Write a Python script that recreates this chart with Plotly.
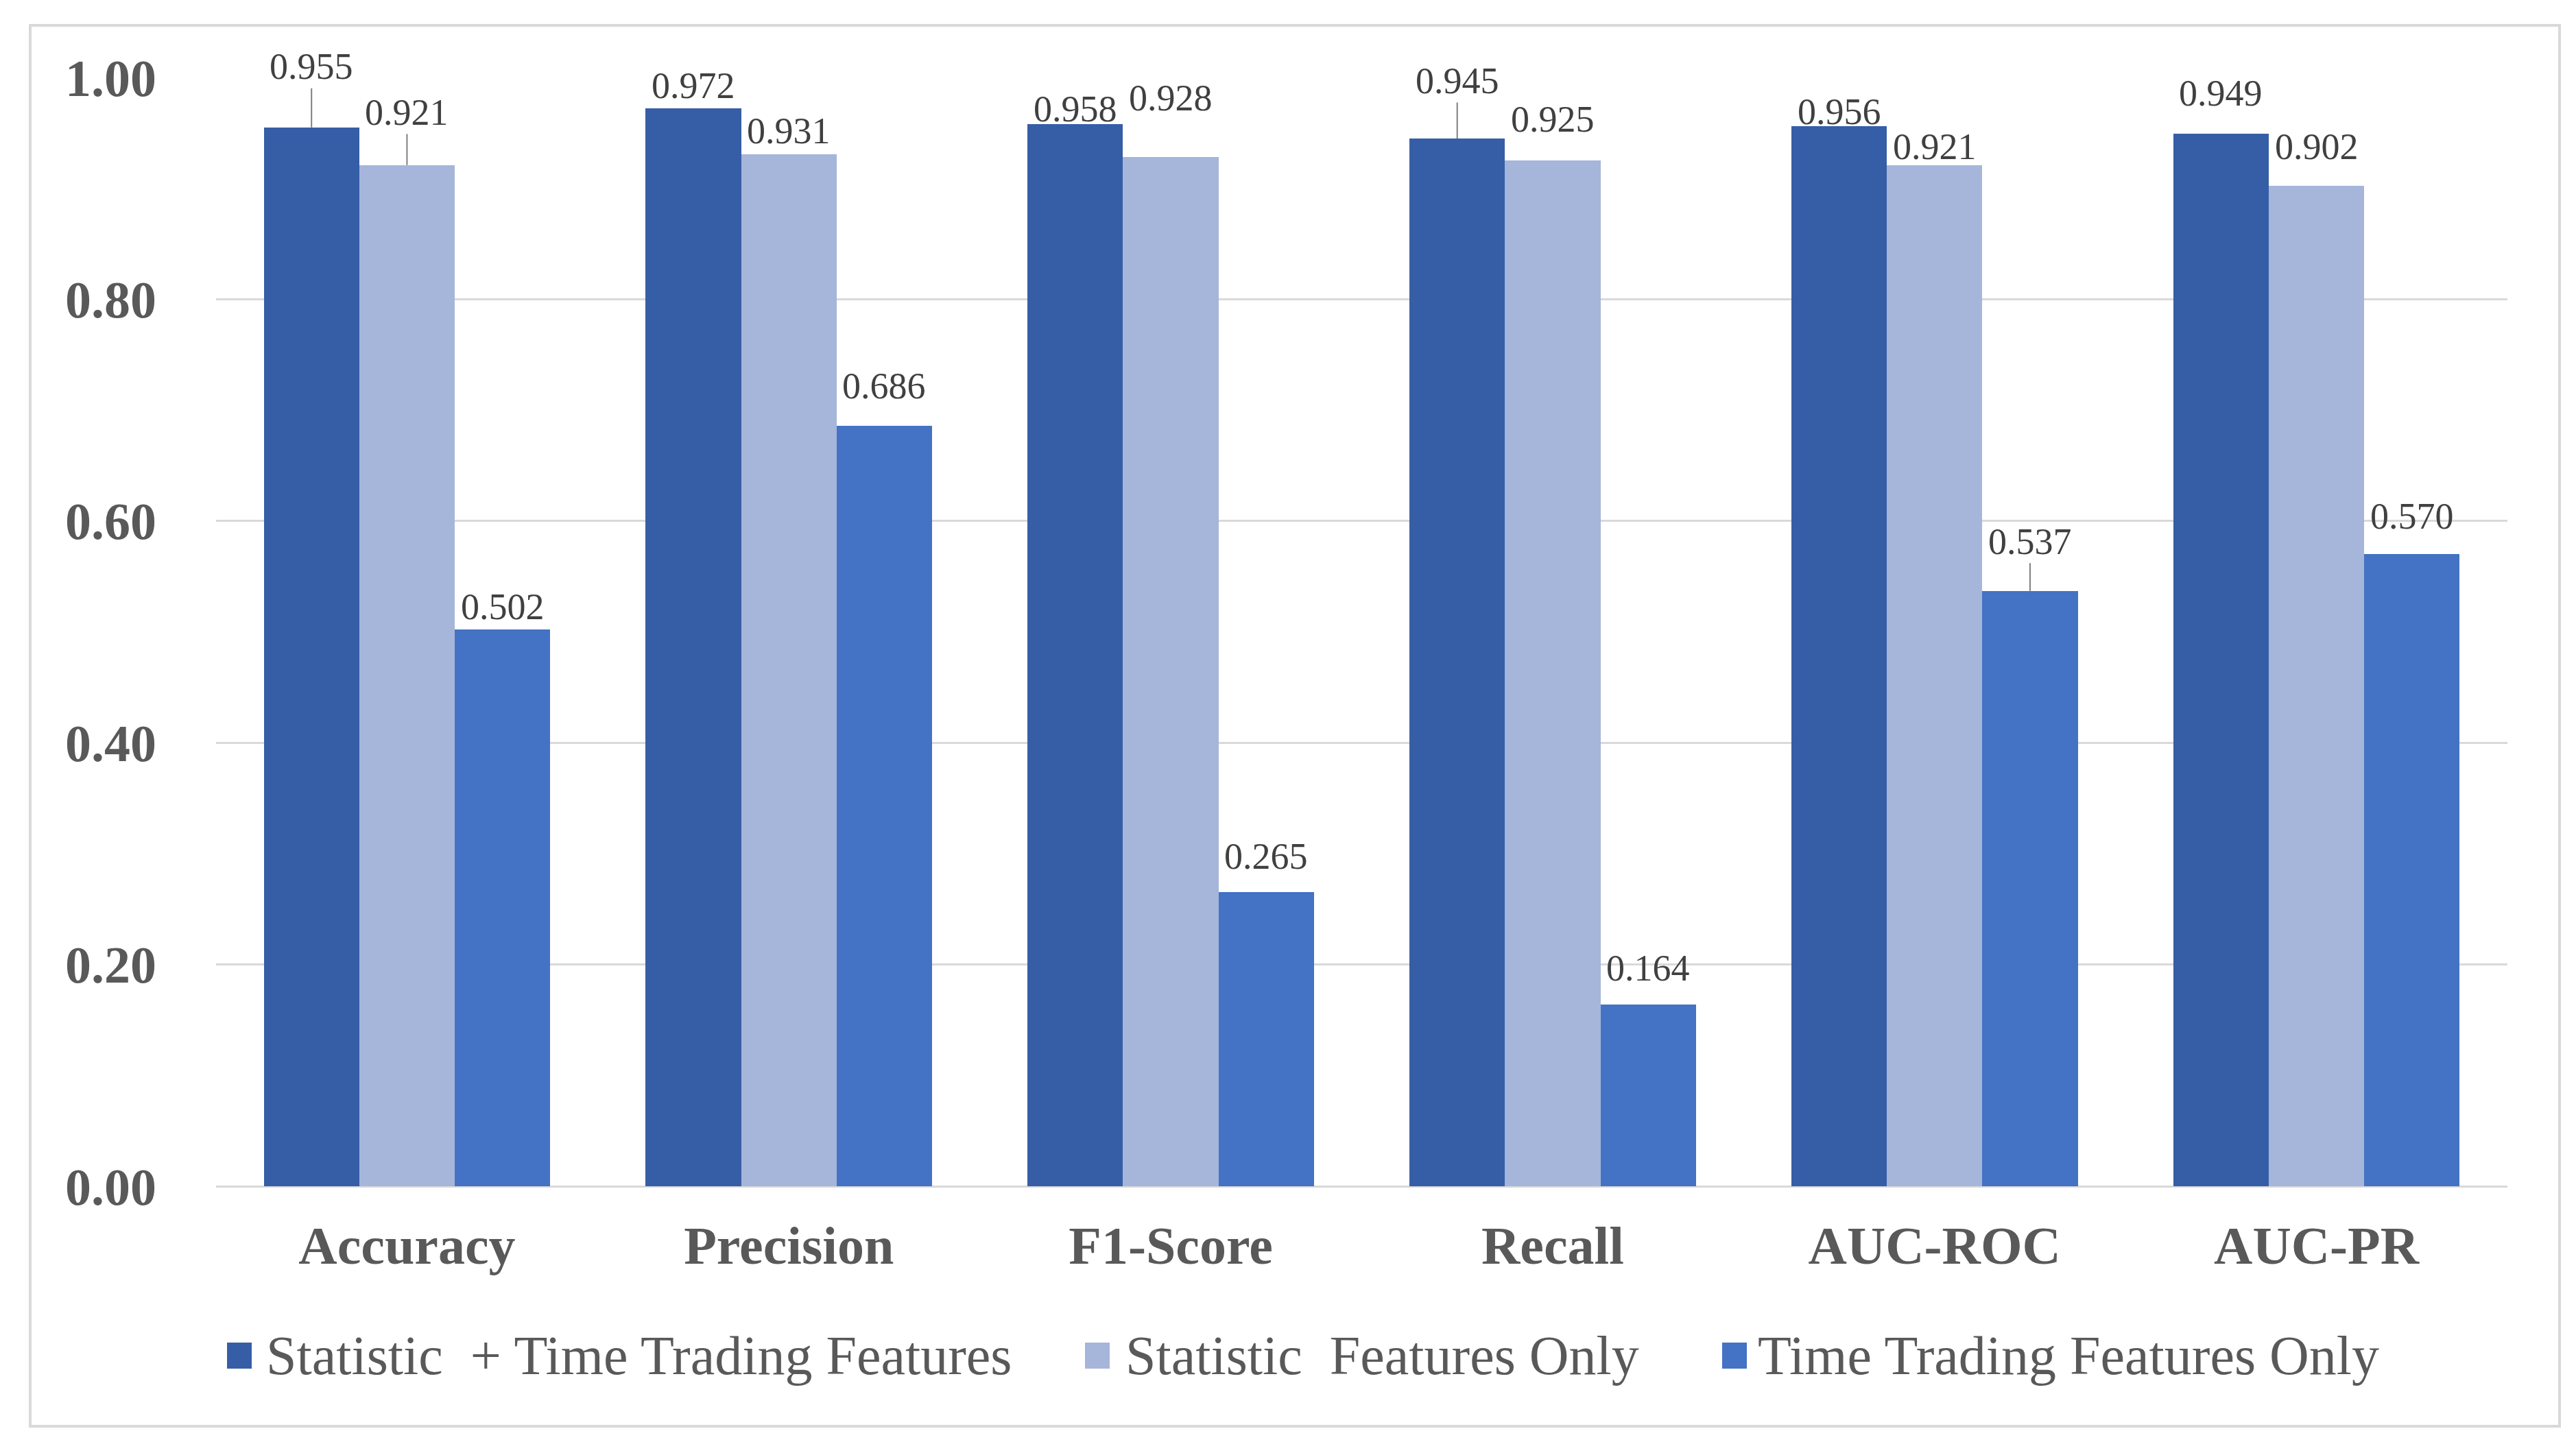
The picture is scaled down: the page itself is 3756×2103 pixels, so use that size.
import plotly.graph_objects as go

# data
categories = ["Accuracy", "Precision", "F1-Score", "Recall", "AUC-ROC", "AUC-PR"]
series_names = [
    "Statistic\u00a0 + Time Trading Features",
    "Statistic\u00a0 Features Only",
    "Time Trading Features Only",
]
combined_scores = [0.955, 0.972, 0.958, 0.945, 0.956, 0.949]
statistic_scores = [0.921, 0.931, 0.928, 0.925, 0.921, 0.902]
time_scores = [0.502, 0.686, 0.265, 0.164, 0.537, 0.570]
y_ticks = [0.0, 0.2, 0.4, 0.6, 0.8, 1.0]

# styling
W, H = 3756, 2103
L, R, T, B = 307, 108, 105, 381
FONT = "Liberation Serif"
TEXT_GREY = "#595959"
GRID = "#d9d9d9"
colors = ["#365ea6", "#a6b5da", "#4472c4"]
BAR_W = 0.25
S = 2.395  # reference preview -> full size

# how far each value label sits above its bar (preview px), and which get leader lines
label_lift = [
    [37, 14, 9, 35, 9, 25],
    [32, 14, 36, 25, 11, 24],
    [14, 24, 22, 22, 30, 23],
]
leaders = {(0, 0), (1, 0), (0, 3), (2, 4)}


def paper_x(px):
    return (px - L) / (W - L - R)


def paper_y(py):
    return (H - B - py) / (H - T - B)


all_series = [combined_scores, statistic_scores, time_scores]

fig = go.Figure()
annotations = []
for k, vals in enumerate(all_series):
    xs = [i + (k - 1) * BAR_W for i in range(len(categories))]
    fig.add_trace(go.Bar(
        x=xs, y=vals, width=BAR_W, name=series_names[k],
        marker=dict(color=colors[k], line=dict(width=0)),
        showlegend=False,
    ))
    for i, (x, v) in enumerate(zip(xs, vals)):
        lift = label_lift[k][i] * S
        a = dict(x=x, y=v, xref="x", yref="y", text=f"{v:.3f}",
                 font=dict(family=FONT, size=54, color="#404040"))
        if (k, i) in leaders:
            a.update(showarrow=True, ax=0, ay=-lift, arrowhead=0,
                     arrowwidth=2, arrowcolor="#7f7f7f", standoff=0)
        else:
            a.update(showarrow=False, yshift=lift, yanchor="middle")
        annotations.append(a)

# hand-made legend (plotly's bar legend swatch is too small at this size)
legend_marker_px = [323, 1574, 2503]
legend_text_px = [378, 1631, 2553]
legend_y = 1969
shapes = []
for k in range(3):
    shapes.append(dict(
        type="rect", xref="paper", yref="paper",
        x0=paper_x(legend_marker_px[k]), x1=paper_x(legend_marker_px[k] + 36),
        y0=paper_y(legend_y + 19), y1=paper_y(legend_y - 19),
        fillcolor=colors[k], line=dict(width=0),
    ))
    annotations.append(dict(
        xref="paper", yref="paper", x=paper_x(legend_text_px[k]), y=paper_y(legend_y),
        xanchor="left", yanchor="middle", showarrow=False, text=series_names[k],
        font=dict(family=FONT, size=80, color=TEXT_GREY),
    ))

# outer border of the chart
shapes.append(dict(
    type="rect", xref="paper", yref="paper", layer="below",
    x0=paper_x(36), x1=paper_x(3724), y0=paper_y(2072), y1=paper_y(29),
    line=dict(color=GRID, width=4), fillcolor="rgba(0,0,0,0)",
))

fig.update_layout(
    width=W, height=H,
    margin=dict(l=L, r=R, t=T, b=B),
    paper_bgcolor="white", plot_bgcolor="white",
    font=dict(family=FONT, color=TEXT_GREY),
    bargap=0, showlegend=False,
    annotations=annotations, shapes=shapes,
    xaxis=dict(
        range=[-0.5, len(categories) - 0.5],
        tickvals=list(range(len(categories))), ticktext=categories,
        tickfont=dict(family=FONT, size=78, color=TEXT_GREY, weight="bold"),
        showgrid=False, zeroline=False, ticks="", ticklabelstandoff=34,
    ),
    yaxis=dict(
        range=[0, 1.0], tickvals=y_ticks, tickformat=".2f",
        tickfont=dict(family=FONT, size=76, color=TEXT_GREY, weight="bold"),
        showgrid=True, gridcolor=GRID, gridwidth=3,
        zeroline=True, zerolinecolor=GRID, zerolinewidth=3,
        ticks="", ticklabelstandoff=86,
    ),
)

fig.write_html("out.html")
